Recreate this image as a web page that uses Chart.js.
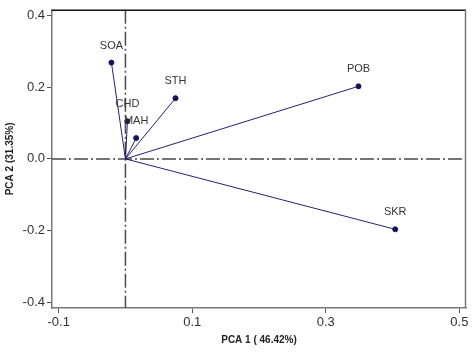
<!DOCTYPE html>
<html>
<head>
<meta charset="utf-8">
<script src="https://cdn.jsdelivr.net/npm/chart.js@4/dist/chart.umd.min.js"></script>
<style>
  html, body { margin: 0; padding: 0; background: #fff; }
  #wrap { width: 474px; height: 354px; }
</style>
</head>
<body>
<div id="wrap"><canvas id="chart" width="474" height="354"></canvas></div>
<script>
// variable names and loadings
var names = ["SOA", "STH", "CHD", "MAH", "POB", "SKR"];
var pc1 = [-0.021, 0.075, 0.003, 0.016, 0.349, 0.404];
var pc2 = [0.268, 0.169, 0.105, 0.058, 0.202, -0.196];
var xTicks = [-0.1, 0.1, 0.3, 0.5];
var yTicks = [-0.4, -0.2, 0.0, 0.2, 0.4];

var lineColor = '#23236e';
var dotColor = '#14145a';

var datasets = [];
for (var i = 0; i < names.length; i++) {
	datasets.push({
		label: names[i],
		data: [{x: 0, y: 0}, {x: pc1[i], y: pc2[i]}],
		showLine: true,
		borderColor: lineColor,
		borderWidth: 1,
		pointRadius: [0, 2.5],
		pointBackgroundColor: dotColor,
		pointBorderColor: dotColor
	});
}

// zero reference lines, frame and point labels
var extras = {
	id: 'extras',
	beforeDatasetsDraw: function(chart) {
		var ctx = chart.ctx, a = chart.chartArea;
		var x0 = chart.scales.x.getPixelForValue(0);
		var y0 = chart.scales.y.getPixelForValue(0);
		ctx.save();
		ctx.strokeStyle = '#4a4a4a';
		ctx.lineWidth = 1.5;
		ctx.setLineDash([14, 3, 2, 3]);
		ctx.beginPath();
		ctx.moveTo(x0, a.top); ctx.lineTo(x0, a.bottom);
		ctx.moveTo(a.left, y0); ctx.lineTo(a.right, y0);
		ctx.stroke();
		ctx.setLineDash([]);
		ctx.lineWidth = 1.5;
		ctx.strokeStyle = '#111';
		ctx.beginPath();
		ctx.moveTo(a.left, a.top + 0.5); ctx.lineTo(a.right, a.top + 0.5);
		ctx.stroke();
		ctx.strokeStyle = '#777';
		ctx.beginPath();
		ctx.moveTo(a.right - 0.5, a.top); ctx.lineTo(a.right - 0.5, a.bottom);
		ctx.stroke();
		ctx.restore();
	},
	afterDatasetsDraw: function(chart) {
		var ctx = chart.ctx;
		ctx.save();
		ctx.font = '11px "Liberation Sans", Arial, sans-serif';
		ctx.fillStyle = '#333';
		ctx.textAlign = 'center';
		ctx.textBaseline = 'middle';
		for (var i = 0; i < names.length; i++) {
			var px = chart.scales.x.getPixelForValue(pc1[i]);
			var py = chart.scales.y.getPixelForValue(pc2[i]);
			ctx.fillText(names[i], px, py - 17);
		}
		ctx.restore();
	}
};

var ctx = document.getElementById('chart').getContext('2d');
var chart = new Chart(ctx, {
	type: 'scatter',
	data: { datasets: datasets },
	plugins: [extras],
	options: {
		responsive: false,
		animation: false,
		layout: { padding: { top: 8, right: 8, left: 0, bottom: 0 } },
		plugins: { legend: { display: false }, tooltip: { enabled: false } },
		scales: {
			x: {
				type: 'linear',
				min: -0.11,
				max: 0.51,
				afterBuildTicks: function(s) { s.ticks = xTicks.map(function(v) { return {value: v}; }); },
				afterFit: function(s) { s.height = 46; },
				grid: { drawOnChartArea: false, drawTicks: true, tickLength: 5, color: '#555' },
				border: { display: true, color: '#777', width: 1.5 },
				ticks: {
					color: '#333',
					font: { family: '"Liberation Sans", Arial, sans-serif', size: 13 },
					padding: 2,
					callback: function(v) { return String(v); }
				},
				title: {
					display: true,
					text: 'PCA 1 ( 46.42%)',
					color: '#222',
					font: { family: '"Liberation Sans", Arial, sans-serif', size: 10, weight: 'bold' },
					padding: { top: 0, bottom: 8 }
				}
			},
			y: {
				type: 'linear',
				min: -0.415,
				max: 0.415,
				afterBuildTicks: function(s) { s.ticks = yTicks.map(function(v) { return {value: v}; }); },
				afterFit: function(s) { s.width = 52; },
				grid: { drawOnChartArea: false, drawTicks: true, tickLength: 5, color: '#555' },
				border: { display: true, color: '#777', width: 1.5 },
				ticks: {
					color: '#333',
					font: { family: '"Liberation Sans", Arial, sans-serif', size: 13 },
					padding: 2,
					callback: function(v) { return v.toFixed(1); }
				},
				title: {
					display: true,
					text: 'PCA 2 (31.35%)',
					color: '#222',
					font: { family: '"Liberation Sans", Arial, sans-serif', size: 10, weight: 'bold' },
					padding: { top: 4, bottom: 0 }
				}
			}
		}
	}
});
</script>
</body>
</html>
